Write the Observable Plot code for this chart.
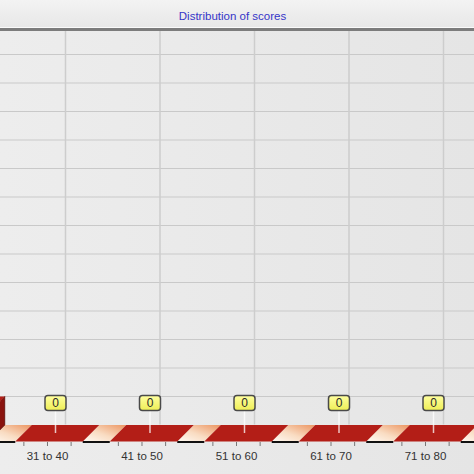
<!DOCTYPE html>
<html>
<head>
<meta charset="utf-8">
<script src="https://cdn.jsdelivr.net/npm/d3@7"></script>
<script src="https://cdn.jsdelivr.net/npm/@observablehq/plot@0.6"></script>
<style>
  html, body { margin: 0; padding: 0; overflow: hidden; background: #e6e6e6; }
  #header {
    height: 28px; border-bottom: 3px solid #7c7c7c;
    background: linear-gradient(to bottom, #f3f3f3, #e7e7e7);
    box-shadow: inset 0 -1px 0 #fafafa;
    font-family: "Liberation Sans", Arial, sans-serif; font-size: 11.5px;
    color: #3535c8; text-align: center; line-height: 32px; padding-right: 9px;
    box-sizing: content-box; width: 465px;
  }
  #chart svg { display: block; }
</style>
</head>
<body>
<div id="header"></div>
<div id="chart"></div>
<script>
// ---- data ----
const title = "Distribution of scores";
const categories = ["21 to 30", "31 to 40", "41 to 50", "51 to 60", "61 to 70", "71 to 80", "81 to 90"];
const counts = [1, 0, 0, 0, 0, 0, 0];
const gridValues = [1, 2, 3, 4, 5, 6, 7, 8, 9, 10, 11, 12, 13];

// ---- layout constants ----
const W = 474, H = 443;
const PXX = 94.5, PXY = 28.5;      // px per category / per count
const DEPTH = 16.5;                // 3D depth in px
const DX = DEPTH / PXX, DY = DEPTH / PXY;
const HALF = 0.357;                // half bar width (category units)
const X_DOMAIN = [0.4868, 5.5026];
const Y_DOMAIN = [-33 / PXY, 410 / PXY];

document.getElementById("header").textContent = title;

const bars = categories.map((c, i) => ({c, i, v: counts[i]}));
// only categories whose centre falls inside the visible window get text
const shown = bars.filter(b => b.i > X_DOMAIN[0] && b.i < X_DOMAIN[1]);

const poly = (pts, id) => pts.map(([x, y]) => ({x, y, id}));
const tops = [], fronts = [], sides = [], gaps = [], gapEdges = [];
bars.forEach(b => {
  const L = b.i - HALF, R = b.i + HALF, v = b.v;
  tops.push(...poly([[L, v], [R, v], [R + DX, v + DY], [L + DX, v + DY]], "t" + b.i));
  if (v > 0) {
    fronts.push(...poly([[L, 0], [R, 0], [R, v], [L, v]], "f" + b.i));
    sides.push(...poly([[R, 0], [R + DX, DY], [R + DX, v + DY], [R, v]], "s" + b.i));
  }
});
for (let i = 0; i < bars.length - 1; i++) {
  const L = i + HALF, R = i + 1 - HALF;
  gaps.push(...poly([[L, 0], [R, 0], [R + DX, DY], [L + DX, DY]], "g" + i));
  gapEdges.push({x1: L, x2: R});
}
const tickPos = bars.flatMap(b => [b.i - 0.25, b.i, b.i + 0.25]);

const roundBox = {
  draw(ctx) {
    const w = 10.5, h = 7.5, r = 3;
    ctx.moveTo(-w + r, -h);
    ctx.lineTo(w - r, -h); ctx.arcTo(w, -h, w, -h + r, r);
    ctx.lineTo(w, h - r); ctx.arcTo(w, h, w - r, h, r);
    ctx.lineTo(-w + r, h); ctx.arcTo(-w, h, -w, h - r, r);
    ctx.lineTo(-w, -h + r); ctx.arcTo(-w, -h, -w + r, -h, r);
    ctx.closePath();
  }
};

const chart = Plot.plot({
  width: W, height: H,
  marginTop: 0, marginBottom: 0, marginLeft: 0, marginRight: 0,
  x: {type: "linear", domain: X_DOMAIN, range: [0, W], axis: null},
  y: {type: "linear", domain: Y_DOMAIN, range: [H, 0], axis: null},
  style: {background: "linear-gradient(to right, #ededed, #e5e5e5)", fontFamily: "'Liberation Sans', Arial, sans-serif", overflow: "hidden"},
  marks: [
    Plot.ruleY(gridValues, {y: d => d + DY, stroke: "#c9c9c9", strokeWidth: 1.2}),
    Plot.ruleX(bars, {x: d => d.i + DX, y1: DY, y2: Y_DOMAIN[1], stroke: "#cdcdcd", strokeWidth: 1.5}),
    Plot.line(gaps, {x: "x", y: "y", z: "id", fill: "url(#floorGrad)", stroke: "none", curve: "linear-closed", clip: true}),
    Plot.link(gapEdges, {x1: "x1", x2: "x2", y1: 0, y2: 0, stroke: "#111", strokeWidth: 2, dy: 0.5, clip: true}),
    Plot.line(sides, {x: "x", y: "y", z: "id", fill: "#8a130e", stroke: "#5a0c08", strokeWidth: 0.8, curve: "linear-closed", clip: true}),
    Plot.line(fronts, {x: "x", y: "y", z: "id", fill: "#a91b14", stroke: "none", curve: "linear-closed", clip: true}),
    Plot.line(tops, {x: "x", y: "y", z: "id", fill: "#b31e17", stroke: "none", curve: "linear-closed", clip: true}),
    Plot.ruleX(shown, {x: "i", y1: d => d.v + 8 / PXY, y2: d => d.v + 31 / PXY, dx: 6.5, stroke: "#ffffff", strokeOpacity: 0.75, strokeWidth: 1.5}),
    Plot.dot(shown, {x: "i", y: "v", dx: 6.5, dy: -38.5, r: 1, symbol: roundBox, fill: "url(#boxGrad)", stroke: "#4a4a4a", strokeWidth: 1.5}),
    Plot.text(shown, {x: "i", y: "v", dx: 6.5, dy: -38.5, text: d => String(d.v), fontSize: 12, fill: "#2a2a2a"}),
    Plot.ruleX(tickPos, {x: d => d, y1: -1 / PXY, y2: -5 / PXY, dx: -1.5, stroke: "#777", strokeWidth: 1, clip: true}),
    Plot.text(shown, {x: "i", y: 0, dx: -1.5, dy: 15, text: "c", fontSize: 11.5, fill: "#333"})
  ]
});

const svg = d3.select(chart);
const defs = svg.insert("defs", ":first-child");
const fg = defs.append("linearGradient").attr("id", "floorGrad")
  .attr("x1", 0).attr("y1", 1).attr("x2", 1).attr("y2", 0);
fg.append("stop").attr("offset", "0%").attr("stop-color", "#fffaf3");
fg.append("stop").attr("offset", "45%").attr("stop-color", "#f9dcc2");
fg.append("stop").attr("offset", "100%").attr("stop-color", "#ec9562");
const bg = defs.append("linearGradient").attr("id", "boxGrad")
  .attr("x1", 0).attr("y1", 0).attr("x2", 0).attr("y2", 1);
bg.append("stop").attr("offset", "0%").attr("stop-color", "#ffffa0");
bg.append("stop").attr("offset", "100%").attr("stop-color", "#eeee55");

document.getElementById("chart").appendChild(chart);
</script>
</body>
</html>
